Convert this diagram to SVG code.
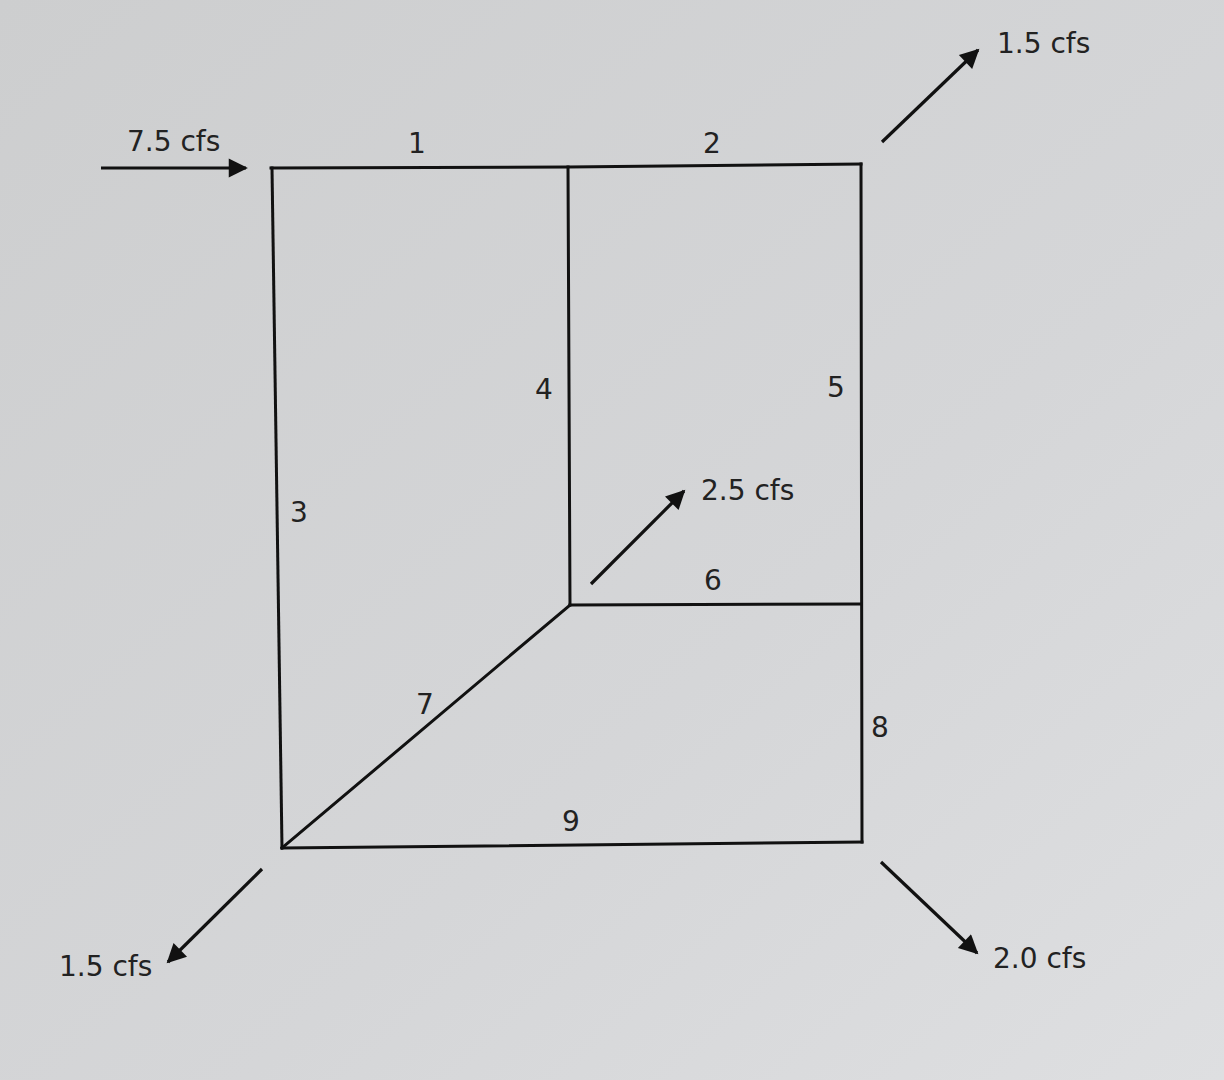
<svg xmlns="http://www.w3.org/2000/svg" width="1224" height="1080" viewBox="0 0 1224 1080">
<defs>
<linearGradient id="bg" x1="0" y1="0" x2="1" y2="1">
<stop offset="0" stop-color="#cdcecf"/>
<stop offset="0.6" stop-color="#d5d6d8"/>
<stop offset="1" stop-color="#dedfe1"/>
</linearGradient>
<marker id="ah" viewBox="0 0 10 10" refX="9" refY="5" markerWidth="7" markerHeight="6" markerUnits="strokeWidth" orient="auto">
<path d="M0,0 L10,5 L0,10 z" fill="#111"/>
</marker>
<style>
.pipe{stroke:#111;stroke-width:3;fill:none;stroke-linecap:square}
.flow{stroke:#111;stroke-width:3.2;fill:none;marker-end:url(#ah)}
text{font-family:"DejaVu Sans","Liberation Sans",Arial,sans-serif;font-size:28px;fill:#222}
</style>
</defs>
<rect width="1224" height="1080" fill="url(#bg)"/>
<g id="pipes">
<path class="pipe" d="M271,168 L568,167 L861,164"/>
<path class="pipe" d="M272,168 L282,848"/>
<path class="pipe" d="M568,167 L570,605"/>
<path class="pipe" d="M861,164 L862,842"/>
<path class="pipe" d="M570,605 L861,604"/>
<path class="pipe" d="M570,605 L282,848"/>
<path class="pipe" d="M282,848 L862,842"/>
</g>
<g id="flows">
<line class="flow" x1="101" y1="168" x2="246" y2="168"/>
<line class="flow" x1="882" y1="142" x2="978" y2="50"/>
<line class="flow" x1="591" y1="584" x2="684" y2="491"/>
<line class="flow" x1="262" y1="869" x2="168" y2="962"/>
<line class="flow" x1="881" y1="862" x2="977" y2="953"/>
</g>
<g id="labels">
<text x="127" y="151">7.5 cfs</text>
<text x="997" y="53">1.5 cfs</text>
<text x="701" y="500">2.5 cfs</text>
<text x="59" y="976">1.5 cfs</text>
<text x="993" y="968">2.0 cfs</text>
<text x="408" y="153">1</text>
<text x="703" y="153">2</text>
<text x="290" y="522">3</text>
<text x="535" y="399">4</text>
<text x="827" y="397">5</text>
<text x="704" y="590">6</text>
<text x="416" y="714">7</text>
<text x="871" y="737">8</text>
<text x="562" y="831">9</text>
</g>
</svg>
